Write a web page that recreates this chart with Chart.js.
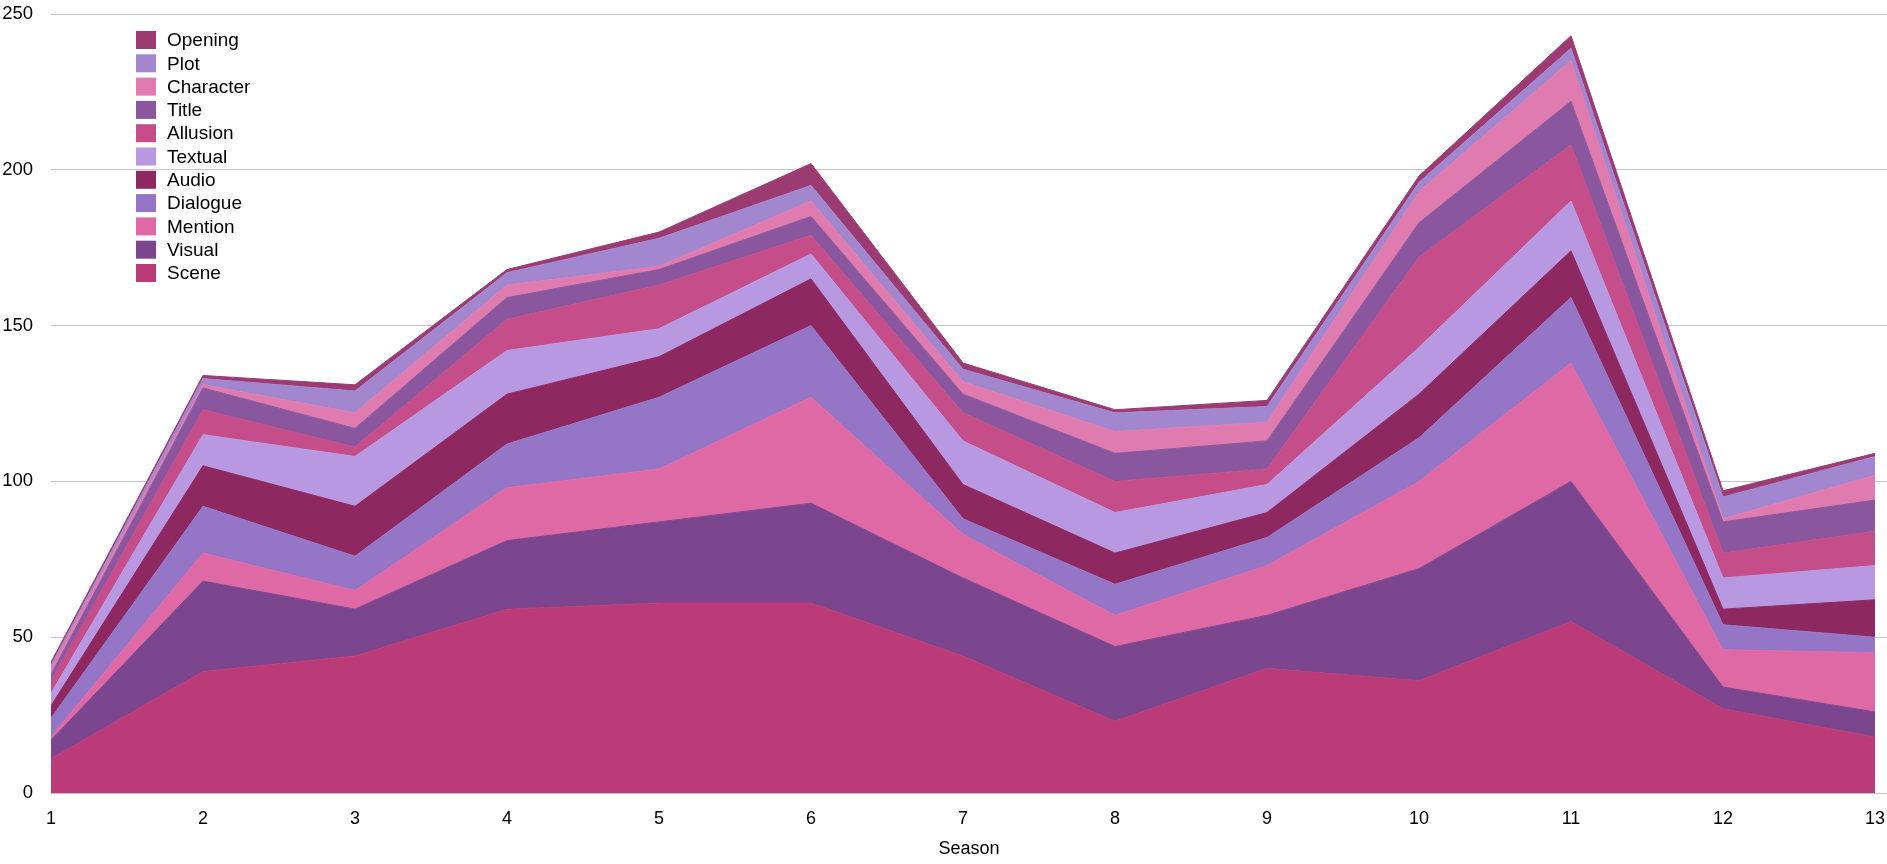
<!DOCTYPE html>
<html>
<head>
<meta charset="utf-8">
<script src="https://cdn.jsdelivr.net/npm/chart.js@4/dist/chart.umd.min.js"></script>
<style>
  html, body { margin: 0; padding: 0; background: #fff; overflow: hidden; }
  #wrap { width: 1887px; height: 864px; position: relative; }
</style>
</head>
<body>
<div id="wrap"><canvas id="seasonChart" width="1887" height="864"></canvas></div>
<script>
// Seasons along the x axis
const seasons = [1, 2, 3, 4, 5, 6, 7, 8, 9, 10, 11, 12, 13];
const yTicks = [0, 50, 100, 150, 200, 250];

// Per-season counts, bottom layer first
const scene     = [11, 39, 44, 59, 61, 61, 44, 23, 40, 36, 55, 27, 18];
const visual    = [6, 29, 15, 22, 26, 32, 25, 24, 17, 36, 45, 7, 8];
const mention   = [1, 9, 6, 17, 17, 34, 14, 10, 16, 28, 38, 12, 19];
const dialogue  = [6, 15, 11, 14, 23, 23, 5, 10, 9, 14, 21, 8, 5];
const audio     = [4, 13, 16, 16, 13, 15, 11, 10, 8, 14, 15, 5, 12];
const textual   = [4, 10, 16, 14, 9, 8, 14, 13, 9, 15, 16, 10, 11];
const allusion  = [4, 8, 3, 10, 14, 6, 9, 10, 5, 29, 18, 8, 11];
const title     = [2, 7, 6, 7, 5, 6, 6, 9, 9, 11, 14, 10, 10];
const character = [2, 1, 5, 4, 1, 5, 4, 7, 6, 10, 13, 1, 8];
const plot      = [1, 2, 7, 4, 9, 5, 4, 6, 5, 3, 4, 7, 6];
const opening   = [1, 1, 2, 1, 2, 7, 2, 1, 2, 2, 4, 2, 1];

const series = [
    { label: 'Scene', values: scene, color: '#bb3a78' },
    { label: 'Visual', values: visual, color: '#7c468f' },
    { label: 'Mention', values: mention, color: '#df69a5' },
    { label: 'Dialogue', values: dialogue, color: '#9575c6' },
    { label: 'Audio', values: audio, color: '#8e2860' },
    { label: 'Textual', values: textual, color: '#b898e0' },
    { label: 'Allusion', values: allusion, color: '#c44d8a' },
    { label: 'Title', values: title, color: '#8a579e' },
    { label: 'Character', values: character, color: '#e07bb0' },
    { label: 'Plot', values: plot, color: '#a287cf' },
    { label: 'Opening', values: opening, color: '#9c3b72' }
];

const FONT = '"Liberation Sans", Arial, Helvetica, sans-serif';

// legend drawn as a vertical list in the top-left of the plot
const boxLegend = {
    id: 'boxLegend',
    afterDraw(chart) {
        const ctx = chart.ctx;
        const items = chart.data.datasets.slice().reverse();
        ctx.save();
        ctx.font = '19px ' + FONT;
        ctx.textBaseline = 'middle';
        ctx.textAlign = 'left';
        items.forEach((ds, i) => {
            const y = 40 + i * 23.3;
            ctx.fillStyle = ds.backgroundColor;
            ctx.fillRect(136, y - 9, 20, 18);
            ctx.fillStyle = '#000';
            ctx.fillText(ds.label, 167, y + 1);
        });
        ctx.restore();
    }
};

// keep the plot box fixed: no extra room for overhanging tick labels
function noPadding(axis) {
    axis.paddingTop = 0;
    axis.paddingBottom = 0;
    axis.paddingLeft = 0;
    axis.paddingRight = 0;
}

const ctx = document.getElementById('seasonChart').getContext('2d');
const seasonChart = new Chart(ctx, {
    type: 'line',
    data: {
        datasets: series.map((s, i) => ({
            label: s.label,
            data: seasons.map((x, j) => ({ x: x, y: s.values[j] })),
            backgroundColor: s.color,
            borderColor: s.color,
            borderWidth: 1,
            pointRadius: 0,
            tension: 0,
            fill: i === 0 ? 'origin' : '-1'
        }))
    },
    options: {
        responsive: false,
        animation: false,
        layout: {
            padding: { top: 14, right: 0, bottom: 0, left: 0 }
        },
        plugins: {
            legend: { display: false },
            tooltip: { enabled: false }
        },
        scales: {
            x: {
                type: 'linear',
                min: 1,
                max: 13.079,
                afterBuildTicks: function (axis) {
                    axis.ticks = seasons.map(v => ({ value: v }));
                },
                afterFit: function (axis) {
                    axis.height = 71;
                    noPadding(axis);
                },
                grid: { display: false },
                border: { display: false },
                ticks: {
                    color: '#000',
                    font: { family: FONT, size: 18 },
                    padding: 7,
                    maxRotation: 0,
                    autoSkip: false
                },
                title: {
                    display: true,
                    text: 'Season',
                    color: '#000',
                    font: { family: FONT, size: 18 },
                    padding: { top: 8, bottom: 4 }
                }
            },
            y: {
                stacked: true,
                min: 0,
                max: 250,
                afterBuildTicks: function (axis) {
                    axis.ticks = yTicks.map(v => ({ value: v }));
                },
                afterFit: function (axis) {
                    axis.width = 51;
                    noPadding(axis);
                },
                grid: {
                    color: '#c4c4c4',
                    lineWidth: 1,
                    drawTicks: false
                },
                border: { display: false },
                ticks: {
                    color: '#000',
                    font: { family: FONT, size: 18.5 },
                    padding: 18,
                    autoSkip: false
                }
            }
        }
    },
    plugins: [boxLegend]
});
</script>
</body>
</html>
